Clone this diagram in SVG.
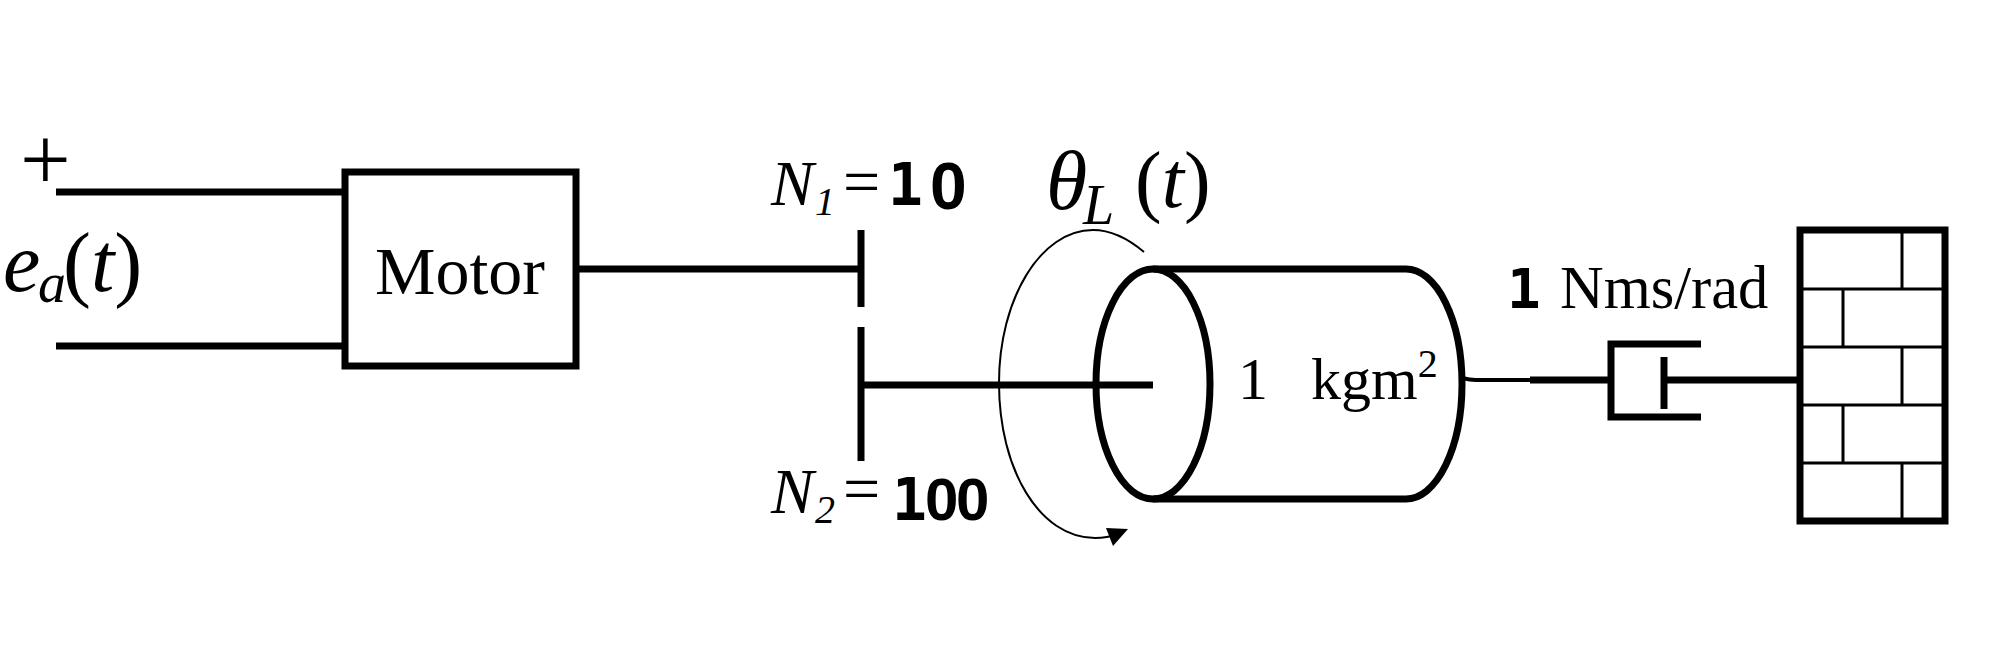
<svg xmlns="http://www.w3.org/2000/svg" width="2004" height="664" viewBox="0 0 2004 664">
<style>
.s{font-family:"Liberation Serif","Times New Roman",serif;fill:#000}
.i{font-style:italic}
.m{font-family:"DejaVu Sans Mono",monospace;font-weight:bold;fill:#000}
.z{font-family:"Liberation Sans",Arial,sans-serif;font-weight:bold}
.l{fill:none;stroke:#000;stroke-width:7}
.t{fill:none;stroke:#000;stroke-width:3}
</style>
<rect width="2004" height="664" fill="#fff"/>
<g id="connectors">
<path class="l" d="M56 192H345M56 346H345"/>
<path class="l" d="M579 269H861"/>
<path class="l" d="M864 385H1153"/>
<path class="t" style="stroke-width:4" d="M1462 378Q1470 380 1476 380H1530"/>
<path class="l" d="M1530 380H1611"/>
<path class="l" d="M1664 380H1800"/>
<path fill="none" stroke="#000" stroke-width="2" d="M1144 252C1125 236 1108 230 1093 230C1040 230 999 300 999 383C999 470 1040 538 1095 538C1102 538 1110 537 1117 534"/>
<path d="M1106 528L1128 529L1113 546Z" fill="#000"/>
</g>
<g id="source">
<text class="s" x="20" y="190" font-size="90">+</text>
<text class="s" y="291" font-size="84"><tspan class="i" x="3">e</tspan><tspan class="i" x="38" y="302" font-size="56">a</tspan><tspan x="63" y="291">(</tspan><tspan class="i">t</tspan><tspan>)</tspan></text>
</g>
<g id="motor">
<rect class="l" x="345" y="172" width="231" height="194"/>
<text class="s" x="460" y="294" font-size="68" text-anchor="middle">Motor</text>
</g>
<g id="gear1">
<path class="l" d="M861 230V307"/>
<text class="s i" x="771" y="205" font-size="64">N<tspan x="815" y="215" font-size="40">1</tspan></text>
<text class="s" x="843" y="204" font-size="66">=</text>
<text class="m" x="888" y="205" font-size="58">1<tspan class="z" x="930" y="209" font-size="66">0</tspan></text>
</g>
<g id="gear2">
<path class="l" d="M861 327V461"/>
<text class="s i" x="771" y="513" font-size="64">N<tspan x="815" y="523" font-size="40">2</tspan></text>
<text class="s" x="843" y="511" font-size="66">=</text>
<text class="m" x="892" y="520" font-size="58">1<tspan class="z" x="925" font-size="60">0</tspan><tspan class="z" x="956" font-size="60">0</tspan></text>
</g>
<g id="angle">
<text class="s i" x="1046" y="209" font-size="84">θ</text>
<text class="s i" x="1083" y="224" font-size="56">L</text>
<text class="s" x="1135" y="207" font-size="80">(<tspan class="i">t</tspan>)</text>
</g>
<g id="load">
<path class="l" d="M1153 269H1406A56 115 0 0 1 1406 499H1153"/>
<ellipse class="l" cx="1153" cy="384" rx="57" ry="115"/>
<text class="s" x="1238" y="399" font-size="60">1</text>
<text class="s" x="1311" y="399" font-size="60">kgm<tspan font-size="40" dy="-22">2</tspan></text>
</g>
<g id="damper">
<path class="l" d="M1701 344H1611V417H1701"/>
<path class="l" d="M1664 357V409"/>
<text class="m" x="1507" y="308" font-size="56">1</text>
<text class="s" x="1560" y="308" font-size="60.5">Nms/rad</text>
</g>
<g id="wall">
<path class="t" d="M1800 289H1945M1800 347H1945M1800 405H1945M1800 463H1945M1902 230V289M1902 347V405M1902 463V521M1843 289V347M1843 405V463"/>
<rect class="l" x="1800" y="230" width="145" height="291"/>
</g>
</svg>
